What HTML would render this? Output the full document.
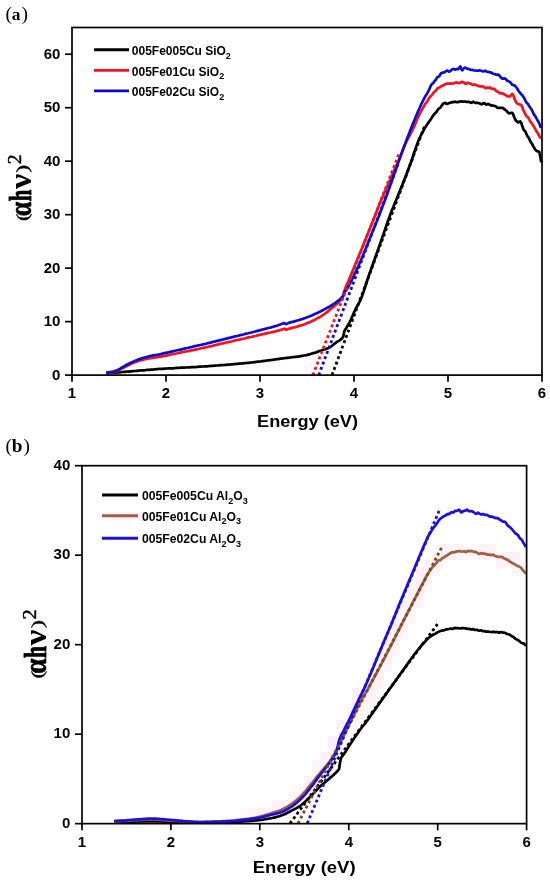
<!DOCTYPE html>
<html lang="en">
<head>
<meta charset="utf-8">
<title>Tauc plots</title>
<style>
html,body{margin:0;padding:0;background:#fff;}
body{width:550px;height:885px;overflow:hidden;position:relative;}
svg{position:absolute;left:0;top:0;display:block;}
.sans{font-family:"Liberation Sans",Arial,Helvetica,sans-serif;font-weight:bold;fill:#000;}
.serif{font-family:"Liberation Serif","DejaVu Serif",serif;fill:#000;}
.tick{font-size:15px;}
.leg{font-size:12px;}
.axl{font-size:17.6px;}
.ax line,.ax rect{stroke:#000;stroke-width:1.7;fill:none;}
.cv path{fill:none;stroke-linejoin:round;stroke-linecap:butt;}
.dot line{stroke-width:2.8;stroke-dasharray:2.9 2.8;fill:none;}
</style>
</head>
<body>
<svg width="550" height="885" viewBox="0 0 550 885">
<rect x="0" y="0" width="550" height="885" fill="#ffffff"/>

<!-- ================= panel (a) ================= -->
<text class="serif" y="19.8"><tspan x="5.6" font-size="19.6px">(</tspan><tspan x="11.8" font-size="17.4px" font-weight="bold">a</tspan><tspan x="21.6" font-size="19.6px">)</tspan></text>

<g class="cv">
<path d="M106.3,373.5 L107.3,373.3 L108.3,373.2 L109.3,373.1 L110.3,373.0 L111.3,372.9 L112.3,372.9 L113.3,372.8 L114.3,372.7 L115.3,372.7 L116.3,372.6 L117.3,372.4 L118.3,372.3 L119.3,372.3 L120.3,372.3 L121.3,372.1 L122.3,372.0 L123.3,371.9 L124.3,371.9 L125.3,371.8 L126.3,371.7 L127.3,371.7 L128.3,371.7 L129.3,371.6 L130.3,371.4 L131.3,371.3 L132.3,371.2 L133.3,371.1 L134.3,371.0 L135.3,371.0 L136.3,370.9 L137.3,370.8 L138.3,370.7 L139.3,370.6 L140.3,370.5 L141.3,370.4 L142.3,370.3 L143.3,370.3 L144.3,370.3 L145.3,370.2 L146.3,370.0 L147.3,369.9 L148.3,369.8 L149.3,369.8 L150.3,369.7 L151.3,369.6 L152.3,369.6 L153.3,369.5 L154.3,369.4 L155.3,369.3 L156.3,369.2 L157.3,369.1 L158.3,369.0 L159.3,368.9 L160.3,368.9 L161.3,368.9 L162.3,368.8 L163.3,368.8 L164.3,368.7 L165.3,368.6 L166.3,368.5 L167.3,368.5 L168.3,368.4 L169.3,368.3 L170.3,368.3 L171.3,368.3 L172.3,368.3 L173.3,368.3 L174.3,368.2 L175.3,368.0 L176.3,367.8 L177.3,367.9 L178.3,367.9 L179.3,367.9 L180.3,367.7 L181.3,367.6 L182.3,367.6 L183.3,367.6 L184.3,367.6 L185.3,367.5 L186.3,367.5 L187.3,367.4 L188.3,367.4 L189.3,367.3 L190.3,367.3 L191.3,367.2 L192.3,367.1 L193.3,367.1 L194.3,367.1 L195.3,367.1 L196.3,367.0 L197.3,366.9 L198.3,366.8 L199.3,366.7 L200.3,366.7 L201.3,366.6 L202.3,366.5 L203.3,366.5 L204.3,366.4 L205.3,366.4 L206.3,366.3 L207.3,366.3 L208.3,366.2 L209.3,366.1 L210.3,366.0 L211.3,365.9 L212.3,365.9 L213.3,365.8 L214.3,365.7 L215.3,365.6 L216.3,365.5 L217.3,365.5 L218.3,365.5 L219.3,365.3 L220.3,365.2 L221.3,365.2 L222.3,365.1 L223.3,365.0 L224.3,365.0 L225.3,364.9 L226.3,364.8 L227.3,364.7 L228.3,364.7 L229.3,364.6 L230.3,364.5 L231.3,364.4 L232.3,364.4 L233.3,364.2 L234.3,364.1 L235.3,364.0 L236.3,363.9 L237.3,363.8 L238.3,363.7 L239.3,363.7 L240.3,363.6 L241.3,363.5 L242.3,363.4 L243.3,363.3 L244.3,363.2 L245.3,363.1 L246.3,363.0 L247.3,362.9 L248.3,362.8 L249.3,362.8 L250.3,362.6 L251.3,362.5 L252.3,362.4 L253.3,362.3 L254.3,362.2 L255.3,362.1 L256.3,361.9 L257.3,361.7 L258.3,361.7 L259.3,361.7 L260.3,361.5 L261.3,361.3 L262.3,361.2 L263.3,361.1 L264.3,360.9 L265.3,360.8 L266.3,360.6 L267.3,360.5 L268.3,360.4 L269.3,360.3 L270.3,360.1 L271.3,360.0 L272.3,359.9 L273.3,359.8 L274.3,359.6 L275.3,359.4 L276.3,359.2 L277.3,359.2 L278.3,359.1 L279.3,358.9 L280.3,358.7 L281.3,358.6 L282.3,358.5 L283.3,358.3 L284.3,358.2 L285.3,358.0 L286.3,357.9 L287.3,357.8 L288.3,357.8 L289.3,357.6 L290.3,357.5 L291.3,357.3 L292.3,357.2 L293.3,357.1 L294.3,357.0 L295.3,356.9 L296.3,356.8 L297.3,356.7 L298.3,356.6 L299.3,356.4 L300.3,356.2 L301.3,355.9 L302.3,355.8 L303.3,355.7 L304.3,355.5 L305.3,355.3 L306.3,355.1 L307.3,354.9 L308.3,354.6 L309.3,354.4 L310.3,354.0 L311.3,353.7 L312.3,353.4 L313.3,353.1 L314.3,352.9 L315.3,352.7 L316.3,352.3 L317.3,351.9 L318.3,351.6 L319.3,351.1 L320.3,350.7 L321.3,350.5 L322.3,350.1 L323.3,349.8 L324.3,349.5 L325.3,349.2 L326.3,348.8 L327.3,348.4 L328.3,348.0 L329.3,347.5 L330.3,346.9 L331.3,346.3 L332.3,345.6 L333.3,344.7 L334.3,343.9 L335.3,343.1 L336.3,342.4 L337.3,341.6 L338.3,341.1 L339.3,340.6 L340.3,339.9 L341.3,339.1 L342.3,338.0 L343.3,336.4 L344.3,331.2 L345.3,329.5 L346.3,328.0 L347.3,326.3 L348.3,324.7 L349.3,322.9 L350.3,320.9 L351.3,318.8 L352.3,316.5 L353.3,314.1 L354.3,311.8 L355.3,309.7 L356.3,307.7 L357.3,305.9 L358.3,304.1 L359.3,302.4 L360.3,300.3 L361.3,297.9 L362.3,295.4 L363.3,292.6 L364.3,289.6 L365.3,286.5 L366.3,283.4 L367.3,280.3 L368.3,277.3 L369.3,274.3 L370.3,271.5 L371.3,268.7 L372.3,265.8 L373.3,263.0 L374.3,260.1 L375.3,257.3 L376.3,254.6 L377.3,251.8 L378.3,249.0 L379.3,246.1 L380.3,243.2 L381.3,240.2 L382.3,237.3 L383.3,234.5 L384.3,231.6 L385.3,228.6 L386.3,225.7 L387.3,222.8 L388.3,220.0 L389.3,217.2 L390.3,214.5 L391.3,211.8 L392.3,209.3 L393.3,206.9 L394.3,204.5 L395.3,202.1 L396.3,199.7 L397.3,197.3 L398.3,194.8 L399.3,192.3 L400.3,189.8 L401.3,187.3 L402.3,184.9 L403.3,182.3 L404.3,179.7 L405.3,177.2 L406.3,174.7 L407.3,172.0 L408.3,169.3 L409.3,166.7 L410.3,164.0 L411.3,161.2 L412.3,158.2 L413.3,155.1 L414.3,152.2 L415.3,149.3 L416.3,146.4 L417.3,143.7 L418.3,141.1 L419.3,138.7 L420.3,136.5 L421.3,134.5 L422.3,132.6 L423.3,130.8 L424.3,129.1 L425.3,127.4 L426.3,125.8 L427.3,124.2 L428.3,122.7 L429.3,121.2 L430.3,119.9 L431.3,118.4 L432.3,116.7 L433.3,115.4 L434.3,114.1 L435.3,113.0 L436.3,112.0 L437.3,110.6 L438.3,109.1 L439.3,108.4 L440.3,107.9 L441.3,106.3 L442.3,104.7 L443.3,103.7 L444.3,103.0 L445.3,102.9 L446.3,103.6 L447.3,103.9 L448.3,103.4 L449.3,103.0 L450.3,102.7 L451.3,102.4 L452.3,102.1 L453.3,102.1 L454.3,101.9 L455.3,101.7 L456.3,102.1 L457.3,102.2 L458.3,101.9 L459.3,101.8 L460.3,101.4 L461.3,101.3 L462.3,101.6 L463.3,101.6 L464.3,101.5 L465.3,101.5 L466.3,101.9 L467.3,102.0 L468.3,101.7 L469.3,102.1 L470.3,102.5 L471.3,102.8 L472.3,102.3 L473.3,101.7 L474.3,102.4 L475.3,102.9 L476.3,102.7 L477.3,102.8 L478.3,103.0 L479.3,103.3 L480.3,103.8 L481.3,104.2 L482.3,104.1 L483.3,103.2 L484.3,103.0 L485.3,104.0 L486.3,104.6 L487.3,104.2 L488.3,103.9 L489.3,104.5 L490.3,105.2 L491.3,105.4 L492.3,105.6 L493.3,105.7 L494.3,105.9 L495.3,106.0 L496.3,106.8 L497.3,107.7 L498.3,107.9 L499.3,107.8 L500.3,107.9 L501.3,107.9 L502.3,107.8 L503.3,108.3 L504.3,109.1 L505.3,109.9 L506.3,110.6 L507.3,111.7 L508.3,112.9 L509.3,113.3 L510.3,113.1 L511.3,112.8 L512.3,112.8 L513.3,114.6 L514.3,117.5 L515.3,119.6 L516.3,120.8 L517.3,122.0 L518.3,122.4 L519.3,121.7 L520.3,121.4 L521.3,123.0 L522.3,126.0 L523.3,129.0 L524.3,130.5 L525.3,131.4 L526.3,133.7 L527.3,136.1 L528.3,137.2 L529.3,138.9 L530.3,141.2 L531.3,142.7 L532.3,144.3 L533.3,146.4 L534.3,148.1 L535.3,149.5 L536.3,150.8 L537.3,151.3 L538.3,151.3 L539.3,152.0 L540.3,156.5 L541.2,162.2" stroke="#000" stroke-width="2.7"/>
<path d="M106.3,372.9 L107.3,372.8 L108.3,372.7 L109.3,372.7 L110.3,372.5 L111.3,372.4 L112.3,372.3 L113.3,372.0 L114.3,371.7 L115.3,371.5 L116.3,371.3 L117.3,371.0 L118.3,370.5 L119.3,369.9 L120.3,369.4 L121.3,368.9 L122.3,368.4 L123.3,367.9 L124.3,367.3 L125.3,366.8 L126.3,366.3 L127.3,365.8 L128.3,365.3 L129.3,364.8 L130.3,364.3 L131.3,363.9 L132.3,363.4 L133.3,362.9 L134.3,362.5 L135.3,362.1 L136.3,361.7 L137.3,361.3 L138.3,360.9 L139.3,360.6 L140.3,360.4 L141.3,360.2 L142.3,359.9 L143.3,359.6 L144.3,359.4 L145.3,359.2 L146.3,359.0 L147.3,358.7 L148.3,358.5 L149.3,358.4 L150.3,358.3 L151.3,358.1 L152.3,357.9 L153.3,357.7 L154.3,357.6 L155.3,357.5 L156.3,357.4 L157.3,357.2 L158.3,357.0 L159.3,356.9 L160.3,356.8 L161.3,356.6 L162.3,356.4 L163.3,356.2 L164.3,356.0 L165.3,355.7 L166.3,355.6 L167.3,355.4 L168.3,355.2 L169.3,355.0 L170.3,354.7 L171.3,354.5 L172.3,354.3 L173.3,354.1 L174.3,353.9 L175.3,353.7 L176.3,353.5 L177.3,353.3 L178.3,353.1 L179.3,352.8 L180.3,352.6 L181.3,352.4 L182.3,352.1 L183.3,352.0 L184.3,351.8 L185.3,351.5 L186.3,351.4 L187.3,351.2 L188.3,351.1 L189.3,350.9 L190.3,350.6 L191.3,350.4 L192.3,350.3 L193.3,350.1 L194.3,349.8 L195.3,349.6 L196.3,349.4 L197.3,349.2 L198.3,349.0 L199.3,348.8 L200.3,348.5 L201.3,348.3 L202.3,348.1 L203.3,347.9 L204.3,347.7 L205.3,347.4 L206.3,347.2 L207.3,347.0 L208.3,346.7 L209.3,346.5 L210.3,346.3 L211.3,346.2 L212.3,346.0 L213.3,345.6 L214.3,345.3 L215.3,345.1 L216.3,344.9 L217.3,344.6 L218.3,344.4 L219.3,344.1 L220.3,343.9 L221.3,343.7 L222.3,343.4 L223.3,343.3 L224.3,343.1 L225.3,342.8 L226.3,342.5 L227.3,342.3 L228.3,342.1 L229.3,341.9 L230.3,341.7 L231.3,341.5 L232.3,341.2 L233.3,340.9 L234.3,340.7 L235.3,340.4 L236.3,340.2 L237.3,340.0 L238.3,339.8 L239.3,339.6 L240.3,339.4 L241.3,339.1 L242.3,338.9 L243.3,338.7 L244.3,338.5 L245.3,338.2 L246.3,337.9 L247.3,337.7 L248.3,337.4 L249.3,337.2 L250.3,337.2 L251.3,337.0 L252.3,336.7 L253.3,336.4 L254.3,336.2 L255.3,336.0 L256.3,335.7 L257.3,335.4 L258.3,335.1 L259.3,334.9 L260.3,334.7 L261.3,334.6 L262.3,334.3 L263.3,334.1 L264.3,333.9 L265.3,333.6 L266.3,333.3 L267.3,333.2 L268.3,332.9 L269.3,332.7 L270.3,332.5 L271.3,332.3 L272.3,332.1 L273.3,331.9 L274.3,331.8 L275.3,331.5 L276.3,331.1 L277.3,330.8 L278.3,330.6 L279.3,330.3 L280.3,330.0 L281.3,329.7 L282.3,329.4 L283.3,329.1 L284.3,328.7 L285.3,329.4 L286.3,329.8 L287.3,329.3 L288.3,328.9 L289.3,328.6 L290.3,328.4 L291.3,328.1 L292.3,327.8 L293.3,327.5 L294.3,327.4 L295.3,327.1 L296.3,326.9 L297.3,326.6 L298.3,326.2 L299.3,325.9 L300.3,325.6 L301.3,325.4 L302.3,325.0 L303.3,324.7 L304.3,324.3 L305.3,323.9 L306.3,323.5 L307.3,323.1 L308.3,322.7 L309.3,322.4 L310.3,321.9 L311.3,321.4 L312.3,321.0 L313.3,320.5 L314.3,320.0 L315.3,319.5 L316.3,318.9 L317.3,318.4 L318.3,317.9 L319.3,317.2 L320.3,316.7 L321.3,316.1 L322.3,315.4 L323.3,314.8 L324.3,314.1 L325.3,313.3 L326.3,312.6 L327.3,311.9 L328.3,311.1 L329.3,310.2 L330.3,309.3 L331.3,308.5 L332.3,307.7 L333.3,306.9 L334.3,306.0 L335.3,305.2 L336.3,304.3 L337.3,303.4 L338.3,302.4 L339.3,301.3 L340.3,300.1 L341.3,298.9 L342.3,297.8 L343.3,296.0 L344.3,291.1 L345.3,288.2 L346.3,285.9 L347.3,283.6 L348.3,281.2 L349.3,278.8 L350.3,276.4 L351.3,274.0 L352.3,271.6 L353.3,269.2 L354.3,266.8 L355.3,264.3 L356.3,261.9 L357.3,259.5 L358.3,257.1 L359.3,254.6 L360.3,252.2 L361.3,249.8 L362.3,247.4 L363.3,245.0 L364.3,242.5 L365.3,240.1 L366.3,237.6 L367.3,235.1 L368.3,232.5 L369.3,230.0 L370.3,227.5 L371.3,225.0 L372.3,222.5 L373.3,220.0 L374.3,217.4 L375.3,214.9 L376.3,212.3 L377.3,209.7 L378.3,207.2 L379.3,204.6 L380.3,202.1 L381.3,199.8 L382.3,197.5 L383.3,195.2 L384.3,192.9 L385.3,190.6 L386.3,188.4 L387.3,186.0 L388.3,183.7 L389.3,181.5 L390.3,179.2 L391.3,176.9 L392.3,174.6 L393.3,172.3 L394.3,170.0 L395.3,167.9 L396.3,165.7 L397.3,163.5 L398.3,161.3 L399.3,159.0 L400.3,156.7 L401.3,154.2 L402.3,151.6 L403.3,148.9 L404.3,146.3 L405.3,143.9 L406.3,141.8 L407.3,139.8 L408.3,137.8 L409.3,136.0 L410.3,134.3 L411.3,132.4 L412.3,130.5 L413.3,128.4 L414.3,126.2 L415.3,123.8 L416.3,121.5 L417.3,119.1 L418.3,116.8 L419.3,114.7 L420.3,112.8 L421.3,110.9 L422.3,109.1 L423.3,107.3 L424.3,105.6 L425.3,103.8 L426.3,102.5 L427.3,101.3 L428.3,99.5 L429.3,97.6 L430.3,96.6 L431.3,95.7 L432.3,94.5 L433.3,93.0 L434.3,91.7 L435.3,91.2 L436.3,89.9 L437.3,88.5 L438.3,87.9 L439.3,87.5 L440.3,86.8 L441.3,86.2 L442.3,85.7 L443.3,85.3 L444.3,84.8 L445.3,84.2 L446.3,83.7 L447.3,83.6 L448.3,83.6 L449.3,83.6 L450.3,83.7 L451.3,83.4 L452.3,83.5 L453.3,83.6 L454.3,83.1 L455.3,82.6 L456.3,82.4 L457.3,82.7 L458.3,83.1 L459.3,83.1 L460.3,82.8 L461.3,82.1 L462.3,81.9 L463.3,82.2 L464.3,82.8 L465.3,83.8 L466.3,83.7 L467.3,82.9 L468.3,82.9 L469.3,83.3 L470.3,83.7 L471.3,84.1 L472.3,84.7 L473.3,85.0 L474.3,84.6 L475.3,84.5 L476.3,85.1 L477.3,85.6 L478.3,86.0 L479.3,86.1 L480.3,86.4 L481.3,86.5 L482.3,86.4 L483.3,86.6 L484.3,87.4 L485.3,88.2 L486.3,87.9 L487.3,87.6 L488.3,87.8 L489.3,87.7 L490.3,87.6 L491.3,88.4 L492.3,89.0 L493.3,88.8 L494.3,88.9 L495.3,90.0 L496.3,91.1 L497.3,91.5 L498.3,92.1 L499.3,93.0 L500.3,93.3 L501.3,93.2 L502.3,93.3 L503.3,93.8 L504.3,94.5 L505.3,95.0 L506.3,95.5 L507.3,96.3 L508.3,96.4 L509.3,96.4 L510.3,96.2 L511.3,94.7 L512.3,93.9 L513.3,95.2 L514.3,98.4 L515.3,100.7 L516.3,102.5 L517.3,103.7 L518.3,104.1 L519.3,104.3 L520.3,104.7 L521.3,105.1 L522.3,107.2 L523.3,110.0 L524.3,112.0 L525.3,114.2 L526.3,116.0 L527.3,116.8 L528.3,117.8 L529.3,119.7 L530.3,121.5 L531.3,122.6 L532.3,124.0 L533.3,125.7 L534.3,127.3 L535.3,129.1 L536.3,131.0 L537.3,132.4 L538.3,134.1 L539.3,136.0 L540.3,137.6 L541.0,138.6" stroke="#f4121d" stroke-width="2.7"/>
<path d="M106.3,372.6 L107.3,372.5 L108.3,372.3 L109.3,372.2 L110.3,372.0 L111.3,371.9 L112.3,371.7 L113.3,371.5 L114.3,371.2 L115.3,370.8 L116.3,370.5 L117.3,370.2 L118.3,369.8 L119.3,369.2 L120.3,368.6 L121.3,367.9 L122.3,367.3 L123.3,366.8 L124.3,366.2 L125.3,365.6 L126.3,365.0 L127.3,364.5 L128.3,364.0 L129.3,363.5 L130.3,362.9 L131.3,362.5 L132.3,362.1 L133.3,361.6 L134.3,361.1 L135.3,360.7 L136.3,360.4 L137.3,360.0 L138.3,359.5 L139.3,359.1 L140.3,358.8 L141.3,358.4 L142.3,358.1 L143.3,357.9 L144.3,357.7 L145.3,357.4 L146.3,357.0 L147.3,356.8 L148.3,356.6 L149.3,356.2 L150.3,356.0 L151.3,355.8 L152.3,355.6 L153.3,355.4 L154.3,355.2 L155.3,355.1 L156.3,355.0 L157.3,354.8 L158.3,354.6 L159.3,354.5 L160.3,354.2 L161.3,353.9 L162.3,353.7 L163.3,353.4 L164.3,353.1 L165.3,352.9 L166.3,352.8 L167.3,352.6 L168.3,352.4 L169.3,352.2 L170.3,351.9 L171.3,351.6 L172.3,351.4 L173.3,351.1 L174.3,351.0 L175.3,350.8 L176.3,350.5 L177.3,350.2 L178.3,350.0 L179.3,349.9 L180.3,349.6 L181.3,349.4 L182.3,349.1 L183.3,348.9 L184.3,348.6 L185.3,348.4 L186.3,348.2 L187.3,348.0 L188.3,347.8 L189.3,347.5 L190.3,347.3 L191.3,347.1 L192.3,346.9 L193.3,346.5 L194.3,346.2 L195.3,346.1 L196.3,345.9 L197.3,345.7 L198.3,345.4 L199.3,345.2 L200.3,345.0 L201.3,344.8 L202.3,344.6 L203.3,344.3 L204.3,344.1 L205.3,344.0 L206.3,343.7 L207.3,343.3 L208.3,343.1 L209.3,342.9 L210.3,342.7 L211.3,342.4 L212.3,342.1 L213.3,341.8 L214.3,341.6 L215.3,341.4 L216.3,341.1 L217.3,340.8 L218.3,340.6 L219.3,340.4 L220.3,340.1 L221.3,339.9 L222.3,339.7 L223.3,339.4 L224.3,339.1 L225.3,338.9 L226.3,338.6 L227.3,338.4 L228.3,338.1 L229.3,337.8 L230.3,337.6 L231.3,337.4 L232.3,337.1 L233.3,336.9 L234.3,336.6 L235.3,336.3 L236.3,336.2 L237.3,336.0 L238.3,335.7 L239.3,335.4 L240.3,335.2 L241.3,334.9 L242.3,334.7 L243.3,334.5 L244.3,334.2 L245.3,333.8 L246.3,333.6 L247.3,333.5 L248.3,333.3 L249.3,333.0 L250.3,332.7 L251.3,332.5 L252.3,332.2 L253.3,332.0 L254.3,331.8 L255.3,331.5 L256.3,331.2 L257.3,330.9 L258.3,330.6 L259.3,330.4 L260.3,330.1 L261.3,329.9 L262.3,329.6 L263.3,329.3 L264.3,329.1 L265.3,328.8 L266.3,328.6 L267.3,328.3 L268.3,328.0 L269.3,327.8 L270.3,327.6 L271.3,327.3 L272.3,327.0 L273.3,326.7 L274.3,326.4 L275.3,326.2 L276.3,325.9 L277.3,325.5 L278.3,325.2 L279.3,324.8 L280.3,324.5 L281.3,324.1 L282.3,323.7 L283.3,323.4 L284.3,322.9 L285.3,323.8 L286.3,324.2 L287.3,323.6 L288.3,323.1 L289.3,322.7 L290.3,322.4 L291.3,322.1 L292.3,321.9 L293.3,321.7 L294.3,321.4 L295.3,321.1 L296.3,320.8 L297.3,320.5 L298.3,320.2 L299.3,320.0 L300.3,319.6 L301.3,319.3 L302.3,319.1 L303.3,318.7 L304.3,318.3 L305.3,317.9 L306.3,317.5 L307.3,317.2 L308.3,316.8 L309.3,316.5 L310.3,316.1 L311.3,315.7 L312.3,315.3 L313.3,314.8 L314.3,314.3 L315.3,313.8 L316.3,313.4 L317.3,313.0 L318.3,312.5 L319.3,312.0 L320.3,311.5 L321.3,311.0 L322.3,310.5 L323.3,310.0 L324.3,309.4 L325.3,308.9 L326.3,308.3 L327.3,307.8 L328.3,307.2 L329.3,306.7 L330.3,306.1 L331.3,305.5 L332.3,304.8 L333.3,304.1 L334.3,303.6 L335.3,302.9 L336.3,302.2 L337.3,301.4 L338.3,300.6 L339.3,299.9 L340.3,299.0 L341.3,298.0 L342.3,297.0 L343.3,295.5 L344.3,291.9 L345.3,291.1 L346.3,289.9 L347.3,288.5 L348.3,286.7 L349.3,284.7 L350.3,282.7 L351.3,280.8 L352.3,278.8 L353.3,276.8 L354.3,274.8 L355.3,272.7 L356.3,270.6 L357.3,268.4 L358.3,266.2 L359.3,264.0 L360.3,261.6 L361.3,259.3 L362.3,256.9 L363.3,254.5 L364.3,252.2 L365.3,249.7 L366.3,247.2 L367.3,244.7 L368.3,242.2 L369.3,239.8 L370.3,237.3 L371.3,234.9 L372.3,232.3 L373.3,229.9 L374.3,227.4 L375.3,224.9 L376.3,222.4 L377.3,219.9 L378.3,217.5 L379.3,214.9 L380.3,212.3 L381.3,209.8 L382.3,207.1 L383.3,204.4 L384.3,201.8 L385.3,199.2 L386.3,196.5 L387.3,193.7 L388.3,190.9 L389.3,188.1 L390.3,185.3 L391.3,182.5 L392.3,179.5 L393.3,176.6 L394.3,173.7 L395.3,171.0 L396.3,168.1 L397.3,165.2 L398.3,162.4 L399.3,159.6 L400.3,156.8 L401.3,154.1 L402.3,151.4 L403.3,148.7 L404.3,146.1 L405.3,143.4 L406.3,140.6 L407.3,137.9 L408.3,135.4 L409.3,132.9 L410.3,130.3 L411.3,127.7 L412.3,125.3 L413.3,122.8 L414.3,120.4 L415.3,118.0 L416.3,115.6 L417.3,113.2 L418.3,110.9 L419.3,108.7 L420.3,106.5 L421.3,104.2 L422.3,102.2 L423.3,100.1 L424.3,98.1 L425.3,96.3 L426.3,94.9 L427.3,93.2 L428.3,91.4 L429.3,89.4 L430.3,86.8 L431.3,84.7 L432.3,83.8 L433.3,83.0 L434.3,81.5 L435.3,80.4 L436.3,78.9 L437.3,77.2 L438.3,76.7 L439.3,76.2 L440.3,74.4 L441.3,73.0 L442.3,72.7 L443.3,72.7 L444.3,72.3 L445.3,71.7 L446.3,71.0 L447.3,70.6 L448.3,71.2 L449.3,71.7 L450.3,71.0 L451.3,70.0 L452.3,69.3 L453.3,68.9 L454.3,69.4 L455.3,69.6 L456.3,69.2 L457.3,69.2 L458.3,69.1 L459.3,67.6 L460.3,66.5 L461.3,69.2 L462.3,70.3 L463.3,68.9 L464.3,67.8 L465.3,67.6 L466.3,68.2 L467.3,68.8 L468.3,68.8 L469.3,69.2 L470.3,69.7 L471.3,69.9 L472.3,69.9 L473.3,70.2 L474.3,70.5 L475.3,70.5 L476.3,70.6 L477.3,70.8 L478.3,70.7 L479.3,70.4 L480.3,70.5 L481.3,70.8 L482.3,71.2 L483.3,71.5 L484.3,71.0 L485.3,70.7 L486.3,71.4 L487.3,71.8 L488.3,71.8 L489.3,72.2 L490.3,72.4 L491.3,72.6 L492.3,73.4 L493.3,73.9 L494.3,74.0 L495.3,74.3 L496.3,74.8 L497.3,74.7 L498.3,74.5 L499.3,75.4 L500.3,76.7 L501.3,77.8 L502.3,78.6 L503.3,78.6 L504.3,78.4 L505.3,78.6 L506.3,79.6 L507.3,80.8 L508.3,81.3 L509.3,81.5 L510.3,82.3 L511.3,83.7 L512.3,84.8 L513.3,85.1 L514.3,85.4 L515.3,86.2 L516.3,87.3 L517.3,88.7 L518.3,90.4 L519.3,91.9 L520.3,93.1 L521.3,94.3 L522.3,95.3 L523.3,96.8 L524.3,98.4 L525.3,100.3 L526.3,102.3 L527.3,103.4 L528.3,104.5 L529.3,106.3 L530.3,107.8 L531.3,109.0 L532.3,110.9 L533.3,113.3 L534.3,115.0 L535.3,116.1 L536.3,118.1 L537.3,119.9 L538.3,121.4 L539.3,123.6 L540.3,126.3 L541.0,128.1" stroke="#0b0bd6" stroke-width="2.7"/>
</g>
<g class="dot">
<line x1="312.9" y1="375.1" x2="398.7" y2="154.6" stroke="#f4121d"/>
<line x1="318.7" y1="375.1" x2="398" y2="164" stroke="#0b0bd6"/>
<line x1="332" y1="375.1" x2="424.6" y2="126" stroke="#000"/>
</g>

<g class="ax">
<rect x="72" y="27.5" width="470" height="347.6"/>
<line x1="72" y1="375.1" x2="72" y2="381.8"/>
<line x1="166" y1="375.1" x2="166" y2="381.8"/>
<line x1="260" y1="375.1" x2="260" y2="381.8"/>
<line x1="354" y1="375.1" x2="354" y2="381.8"/>
<line x1="448" y1="375.1" x2="448" y2="381.8"/>
<line x1="542" y1="375.1" x2="542" y2="381.8"/>
<line x1="65" y1="375.10" x2="72" y2="375.10"/>
<line x1="65" y1="321.62" x2="72" y2="321.62"/>
<line x1="65" y1="268.14" x2="72" y2="268.14"/>
<line x1="65" y1="214.66" x2="72" y2="214.66"/>
<line x1="65" y1="161.18" x2="72" y2="161.18"/>
<line x1="65" y1="107.70" x2="72" y2="107.70"/>
<line x1="65" y1="54.22" x2="72" y2="54.22"/>
</g>
<g class="sans tick">
<text x="72" y="397.8" text-anchor="middle">1</text>
<text x="166" y="397.8" text-anchor="middle">2</text>
<text x="260" y="397.8" text-anchor="middle">3</text>
<text x="354" y="397.8" text-anchor="middle">4</text>
<text x="448" y="397.8" text-anchor="middle">5</text>
<text x="542" y="397.8" text-anchor="middle">6</text>
<text x="60.45" y="379.80" text-anchor="end">0</text>
<text x="60.45" y="326.32" text-anchor="end">10</text>
<text x="60.45" y="272.84" text-anchor="end">20</text>
<text x="60.45" y="219.36" text-anchor="end">30</text>
<text x="60.45" y="165.88" text-anchor="end">40</text>
<text x="60.45" y="112.40" text-anchor="end">50</text>
<text x="60.45" y="58.92" text-anchor="end">60</text>
</g>
<text class="sans" font-size="16.4px" transform="translate(307.5,427.1) scale(1.109,1)" text-anchor="middle">Energy (eV)</text>

<g class="cv">
<path d="M94,49.8 H129" stroke="#000" stroke-width="2.9" stroke-linecap="butt"/>
<path d="M94,70.4 H129" stroke="#f4121d" stroke-width="2.9" stroke-linecap="butt"/>
<path d="M94,90.9 H129" stroke="#0b0bd6" stroke-width="2.9" stroke-linecap="butt"/>
</g>
<g class="sans leg">
<text x="131.8" y="55">005Fe005Cu SiO<tspan font-size="9px" dy="3.7">2</tspan></text>
<text x="131.8" y="75.6">005Fe01Cu SiO<tspan font-size="9px" dy="3.7">2</tspan></text>
<text x="131.8" y="96.1">005Fe02Cu SiO<tspan font-size="9px" dy="3.7">2</tspan></text>
</g>

<g transform="translate(30.9,224) rotate(-90)"><text class="serif" transform="translate(3.06,-3) scale(1.350,1)" font-size="16.5px" stroke="#000" stroke-width="0.3" stroke-linejoin="round">(</text><text class="serif" transform="translate(7.70,0) scale(0.820,1)" font-size="32px" font-weight="bold" stroke="#000" stroke-width="0.6" stroke-linejoin="round">α</text><text class="serif" transform="translate(22.80,0) scale(0.650,1)" font-size="32px" font-weight="bold" stroke="#000" stroke-width="0.9" stroke-linejoin="round">h</text><text class="serif" transform="translate(34.90,0) scale(1.100,1)" font-size="31px" font-weight="bold">ν</text><text class="serif" transform="translate(51.30,-3) scale(1.450,1)" font-size="16.5px" stroke="#000" stroke-width="0.3" stroke-linejoin="round">)</text><text class="serif" transform="translate(59.70,-10) scale(1.070,1)" font-size="18.4px" stroke="#000" stroke-width="0.45" stroke-linejoin="round">2</text></g>

<!-- ================= panel (b) ================= -->
<g><rect x="96" y="512" width="8" height="8" fill="#ffe3f1" fill-opacity="0.27"/>
<rect x="104" y="512" width="8" height="8" fill="#ffe3f1" fill-opacity="0.21"/>
<rect x="112" y="512" width="8" height="8" fill="#ffe3f1" fill-opacity="0.39"/>
<rect x="120" y="512" width="8" height="8" fill="#ffe3f1" fill-opacity="0.49"/>
<rect x="128" y="512" width="8" height="8" fill="#ffe3f1" fill-opacity="0.37"/>
<rect x="136" y="512" width="8" height="8" fill="#ffe3f1" fill-opacity="0.39"/>
<rect x="240" y="808" width="8" height="8" fill="#ffe3f1" fill-opacity="0.21"/>
<rect x="248" y="808" width="8" height="8" fill="#ffe3f1" fill-opacity="0.39"/>
<rect x="256" y="808" width="8" height="8" fill="#ffe3f1" fill-opacity="0.58"/>
<rect x="264" y="808" width="8" height="8" fill="#ffe3f1" fill-opacity="0.54"/>
<rect x="272" y="800" width="8" height="8" fill="#ffe3f1" fill-opacity="0.49"/>
<rect x="272" y="808" width="8" height="8" fill="#ffe3f1" fill-opacity="0.24"/>
<rect x="280" y="800" width="8" height="8" fill="#ffe3f1" fill-opacity="0.56"/>
<rect x="280" y="808" width="8" height="8" fill="#ffe3f1" fill-opacity="0.54"/>
<rect x="288" y="792" width="8" height="8" fill="#ffe3f1" fill-opacity="0.27"/>
<rect x="288" y="800" width="8" height="8" fill="#ffe3f1" fill-opacity="0.45"/>
<rect x="288" y="808" width="8" height="8" fill="#ffe3f1" fill-opacity="0.21"/>
<rect x="296" y="784" width="8" height="8" fill="#ffe3f1" fill-opacity="0.25"/>
<rect x="296" y="792" width="8" height="8" fill="#ffe3f1" fill-opacity="0.33"/>
<rect x="296" y="800" width="8" height="8" fill="#ffe3f1" fill-opacity="0.26"/>
<rect x="304" y="776" width="8" height="8" fill="#ffe3f1" fill-opacity="0.50"/>
<rect x="304" y="784" width="8" height="8" fill="#ffe3f1" fill-opacity="0.53"/>
<rect x="304" y="792" width="8" height="8" fill="#ffe3f1" fill-opacity="0.34"/>
<rect x="312" y="760" width="8" height="8" fill="#ffe3f1" fill-opacity="0.33"/>
<rect x="312" y="768" width="8" height="8" fill="#ffe3f1" fill-opacity="0.24"/>
<rect x="312" y="776" width="8" height="8" fill="#ffe3f1" fill-opacity="0.23"/>
<rect x="312" y="784" width="8" height="8" fill="#ffe3f1" fill-opacity="0.49"/>
<rect x="320" y="752" width="8" height="8" fill="#ffe3f1" fill-opacity="0.44"/>
<rect x="320" y="760" width="8" height="8" fill="#ffe3f1" fill-opacity="0.22"/>
<rect x="320" y="768" width="8" height="8" fill="#ffe3f1" fill-opacity="0.39"/>
<rect x="320" y="776" width="8" height="8" fill="#ffe3f1" fill-opacity="0.36"/>
<rect x="328" y="736" width="8" height="8" fill="#ffe3f1" fill-opacity="0.54"/>
<rect x="328" y="744" width="8" height="8" fill="#ffe3f1" fill-opacity="0.49"/>
<rect x="328" y="752" width="8" height="8" fill="#ffe3f1" fill-opacity="0.44"/>
<rect x="328" y="760" width="8" height="8" fill="#ffe3f1" fill-opacity="0.42"/>
<rect x="328" y="768" width="8" height="8" fill="#ffe3f1" fill-opacity="0.58"/>
<rect x="336" y="720" width="8" height="8" fill="#ffe3f1" fill-opacity="0.59"/>
<rect x="336" y="728" width="8" height="8" fill="#ffe3f1" fill-opacity="0.34"/>
<rect x="336" y="736" width="8" height="8" fill="#ffe3f1" fill-opacity="0.30"/>
<rect x="336" y="744" width="8" height="8" fill="#ffe3f1" fill-opacity="0.52"/>
<rect x="336" y="752" width="8" height="8" fill="#ffe3f1" fill-opacity="0.23"/>
<rect x="344" y="704" width="8" height="8" fill="#ffe3f1" fill-opacity="0.35"/>
<rect x="344" y="712" width="8" height="8" fill="#ffe3f1" fill-opacity="0.23"/>
<rect x="344" y="720" width="8" height="8" fill="#ffe3f1" fill-opacity="0.33"/>
<rect x="344" y="728" width="8" height="8" fill="#ffe3f1" fill-opacity="0.23"/>
<rect x="344" y="736" width="8" height="8" fill="#ffe3f1" fill-opacity="0.32"/>
<rect x="344" y="744" width="8" height="8" fill="#ffe3f1" fill-opacity="0.52"/>
<rect x="352" y="688" width="8" height="8" fill="#ffe3f1" fill-opacity="0.56"/>
<rect x="352" y="696" width="8" height="8" fill="#ffe3f1" fill-opacity="0.52"/>
<rect x="352" y="704" width="8" height="8" fill="#ffe3f1" fill-opacity="0.42"/>
<rect x="352" y="712" width="8" height="8" fill="#ffe3f1" fill-opacity="0.45"/>
<rect x="352" y="720" width="8" height="8" fill="#ffe3f1" fill-opacity="0.34"/>
<rect x="360" y="680" width="8" height="8" fill="#ffe3f1" fill-opacity="0.27"/>
<rect x="360" y="688" width="8" height="8" fill="#ffe3f1" fill-opacity="0.37"/>
<rect x="360" y="696" width="8" height="8" fill="#ffe3f1" fill-opacity="0.49"/>
<rect x="360" y="704" width="8" height="8" fill="#ffe3f1" fill-opacity="0.23"/>
<rect x="368" y="664" width="8" height="8" fill="#ffe3f1" fill-opacity="0.21"/>
<rect x="368" y="672" width="8" height="8" fill="#ffe3f1" fill-opacity="0.51"/>
<rect x="368" y="680" width="8" height="8" fill="#ffe3f1" fill-opacity="0.32"/>
<rect x="368" y="688" width="8" height="8" fill="#ffe3f1" fill-opacity="0.48"/>
<rect x="368" y="696" width="8" height="8" fill="#ffe3f1" fill-opacity="0.49"/>
<rect x="376" y="648" width="8" height="8" fill="#ffe3f1" fill-opacity="0.57"/>
<rect x="376" y="656" width="8" height="8" fill="#ffe3f1" fill-opacity="0.36"/>
<rect x="376" y="664" width="8" height="8" fill="#ffe3f1" fill-opacity="0.34"/>
<rect x="376" y="672" width="8" height="8" fill="#ffe3f1" fill-opacity="0.52"/>
<rect x="376" y="680" width="8" height="8" fill="#ffe3f1" fill-opacity="0.51"/>
<rect x="384" y="632" width="8" height="8" fill="#ffe3f1" fill-opacity="0.46"/>
<rect x="384" y="640" width="8" height="8" fill="#ffe3f1" fill-opacity="0.52"/>
<rect x="384" y="648" width="8" height="8" fill="#ffe3f1" fill-opacity="0.46"/>
<rect x="384" y="656" width="8" height="8" fill="#ffe3f1" fill-opacity="0.58"/>
<rect x="384" y="664" width="8" height="8" fill="#ffe3f1" fill-opacity="0.33"/>
<rect x="392" y="616" width="8" height="8" fill="#ffe3f1" fill-opacity="0.50"/>
<rect x="392" y="624" width="8" height="8" fill="#ffe3f1" fill-opacity="0.58"/>
<rect x="392" y="632" width="8" height="8" fill="#ffe3f1" fill-opacity="0.33"/>
<rect x="392" y="640" width="8" height="8" fill="#ffe3f1" fill-opacity="0.44"/>
<rect x="392" y="648" width="8" height="8" fill="#ffe3f1" fill-opacity="0.35"/>
<rect x="400" y="600" width="8" height="8" fill="#ffe3f1" fill-opacity="0.38"/>
<rect x="400" y="608" width="8" height="8" fill="#ffe3f1" fill-opacity="0.23"/>
<rect x="400" y="616" width="8" height="8" fill="#ffe3f1" fill-opacity="0.21"/>
<rect x="400" y="624" width="8" height="8" fill="#ffe3f1" fill-opacity="0.50"/>
<rect x="400" y="632" width="8" height="8" fill="#ffe3f1" fill-opacity="0.38"/>
<rect x="408" y="584" width="8" height="8" fill="#ffe3f1" fill-opacity="0.45"/>
<rect x="408" y="592" width="8" height="8" fill="#ffe3f1" fill-opacity="0.50"/>
<rect x="408" y="600" width="8" height="8" fill="#ffe3f1" fill-opacity="0.37"/>
<rect x="408" y="608" width="8" height="8" fill="#ffe3f1" fill-opacity="0.35"/>
<rect x="408" y="616" width="8" height="8" fill="#ffe3f1" fill-opacity="0.27"/>
<rect x="416" y="568" width="8" height="8" fill="#ffe3f1" fill-opacity="0.52"/>
<rect x="416" y="576" width="8" height="8" fill="#ffe3f1" fill-opacity="0.53"/>
<rect x="416" y="584" width="8" height="8" fill="#ffe3f1" fill-opacity="0.49"/>
<rect x="416" y="592" width="8" height="8" fill="#ffe3f1" fill-opacity="0.55"/>
<rect x="416" y="600" width="8" height="8" fill="#ffe3f1" fill-opacity="0.46"/>
<rect x="424" y="560" width="8" height="8" fill="#ffe3f1" fill-opacity="0.48"/>
<rect x="424" y="568" width="8" height="8" fill="#ffe3f1" fill-opacity="0.28"/>
<rect x="424" y="576" width="8" height="8" fill="#ffe3f1" fill-opacity="0.51"/>
<rect x="424" y="584" width="8" height="8" fill="#ffe3f1" fill-opacity="0.33"/>
<rect x="432" y="552" width="8" height="8" fill="#ffe3f1" fill-opacity="0.38"/>
<rect x="432" y="560" width="8" height="8" fill="#ffe3f1" fill-opacity="0.33"/>
<rect x="432" y="568" width="8" height="8" fill="#ffe3f1" fill-opacity="0.43"/>
<rect x="440" y="544" width="8" height="8" fill="#ffe3f1" fill-opacity="0.46"/>
<rect x="440" y="552" width="8" height="8" fill="#ffe3f1" fill-opacity="0.43"/>
<rect x="440" y="560" width="8" height="8" fill="#ffe3f1" fill-opacity="0.33"/>
<rect x="448" y="544" width="8" height="8" fill="#ffe3f1" fill-opacity="0.29"/>
<rect x="448" y="552" width="8" height="8" fill="#ffe3f1" fill-opacity="0.54"/>
<rect x="456" y="544" width="8" height="8" fill="#ffe3f1" fill-opacity="0.32"/>
<rect x="456" y="552" width="8" height="8" fill="#ffe3f1" fill-opacity="0.38"/>
<rect x="464" y="544" width="8" height="8" fill="#ffe3f1" fill-opacity="0.24"/>
<rect x="464" y="552" width="8" height="8" fill="#ffe3f1" fill-opacity="0.32"/>
<rect x="472" y="544" width="8" height="8" fill="#ffe3f1" fill-opacity="0.23"/>
<rect x="472" y="552" width="8" height="8" fill="#ffe3f1" fill-opacity="0.34"/>
<rect x="480" y="544" width="8" height="8" fill="#ffe3f1" fill-opacity="0.48"/>
<rect x="480" y="552" width="8" height="8" fill="#ffe3f1" fill-opacity="0.59"/>
<rect x="488" y="544" width="8" height="8" fill="#ffe3f1" fill-opacity="0.45"/>
<rect x="488" y="552" width="8" height="8" fill="#ffe3f1" fill-opacity="0.31"/>
<rect x="496" y="552" width="8" height="8" fill="#ffe3f1" fill-opacity="0.46"/>
<rect x="496" y="560" width="8" height="8" fill="#ffe3f1" fill-opacity="0.45"/>
<rect x="504" y="552" width="8" height="8" fill="#ffe3f1" fill-opacity="0.53"/>
<rect x="504" y="560" width="8" height="8" fill="#ffe3f1" fill-opacity="0.41"/>
<rect x="512" y="552" width="8" height="8" fill="#ffe3f1" fill-opacity="0.56"/>
<rect x="512" y="560" width="8" height="8" fill="#ffe3f1" fill-opacity="0.37"/>
<rect x="512" y="568" width="8" height="8" fill="#ffe3f1" fill-opacity="0.31"/></g>
<text class="serif" y="451.7"><tspan x="5.6" font-size="19.2px">(</tspan><tspan x="11.75" font-size="19.3px" font-weight="bold">b</tspan><tspan x="23.4" font-size="19.2px">)</tspan></text>

<g class="cv">
<path d="M114.0,822.2 L115.0,822.2 L116.0,822.1 L117.0,822.1 L118.0,822.0 L119.0,821.9 L120.0,821.9 L121.0,822.0 L122.0,821.9 L123.0,821.9 L124.0,821.8 L125.0,821.8 L126.0,821.8 L127.0,821.8 L128.0,821.7 L129.0,821.7 L130.0,821.7 L131.0,821.7 L132.0,821.7 L133.0,821.6 L134.0,821.6 L135.0,821.6 L136.0,821.5 L137.0,821.5 L138.0,821.6 L139.0,821.6 L140.0,821.5 L141.0,821.5 L142.0,821.5 L143.0,821.4 L144.0,821.4 L145.0,821.4 L146.0,821.4 L147.0,821.3 L148.0,821.3 L149.0,821.4 L150.0,821.5 L151.0,821.5 L152.0,821.4 L153.0,821.4 L154.0,821.4 L155.0,821.4 L156.0,821.4 L157.0,821.4 L158.0,821.5 L159.0,821.5 L160.0,821.5 L161.0,821.5 L162.0,821.6 L163.0,821.6 L164.0,821.6 L165.0,821.6 L166.0,821.6 L167.0,821.6 L168.0,821.7 L169.0,821.7 L170.0,821.7 L171.0,821.8 L172.0,821.8 L173.0,821.9 L174.0,821.9 L175.0,821.9 L176.0,821.9 L177.0,821.9 L178.0,822.0 L179.0,822.0 L180.0,822.1 L181.0,822.1 L182.0,822.1 L183.0,822.2 L184.0,822.2 L185.0,822.2 L186.0,822.2 L187.0,822.3 L188.0,822.3 L189.0,822.3 L190.0,822.3 L191.0,822.3 L192.0,822.4 L193.0,822.3 L194.0,822.3 L195.0,822.3 L196.0,822.3 L197.0,822.3 L198.0,822.4 L199.0,822.4 L200.0,822.4 L201.0,822.4 L202.0,822.4 L203.0,822.4 L204.0,822.4 L205.0,822.4 L206.0,822.4 L207.0,822.4 L208.0,822.4 L209.0,822.4 L210.0,822.3 L211.0,822.3 L212.0,822.3 L213.0,822.3 L214.0,822.3 L215.0,822.3 L216.0,822.3 L217.0,822.3 L218.0,822.3 L219.0,822.2 L220.0,822.2 L221.0,822.1 L222.0,822.1 L223.0,822.1 L224.0,822.1 L225.0,822.1 L226.0,822.0 L227.0,821.9 L228.0,821.9 L229.0,822.0 L230.0,822.0 L231.0,821.9 L232.0,821.9 L233.0,821.8 L234.0,821.8 L235.0,821.8 L236.0,821.7 L237.0,821.7 L238.0,821.7 L239.0,821.7 L240.0,821.6 L241.0,821.6 L242.0,821.5 L243.0,821.4 L244.0,821.4 L245.0,821.3 L246.0,821.2 L247.0,821.2 L248.0,821.2 L249.0,821.1 L250.0,821.0 L251.0,820.9 L252.0,820.8 L253.0,820.7 L254.0,820.6 L255.0,820.5 L256.0,820.4 L257.0,820.3 L258.0,820.2 L259.0,820.1 L260.0,820.0 L261.0,819.9 L262.0,819.8 L263.0,819.7 L264.0,819.5 L265.0,819.3 L266.0,819.1 L267.0,819.0 L268.0,818.8 L269.0,818.6 L270.0,818.4 L271.0,818.2 L272.0,818.0 L273.0,817.8 L274.0,817.6 L275.0,817.4 L276.0,817.1 L277.0,816.8 L278.0,816.6 L279.0,816.3 L280.0,816.0 L281.0,815.6 L282.0,815.2 L283.0,814.8 L284.0,814.4 L285.0,814.0 L286.0,813.5 L287.0,813.0 L288.0,812.5 L289.0,812.0 L290.0,811.5 L291.0,810.9 L292.0,810.4 L293.0,809.9 L294.0,809.4 L295.0,808.9 L296.0,808.4 L297.0,807.8 L298.0,807.2 L299.0,806.6 L300.0,806.0 L301.0,805.3 L302.0,804.5 L303.0,803.6 L304.0,802.7 L305.0,801.9 L306.0,800.9 L307.0,799.9 L308.0,798.9 L309.0,798.0 L310.0,797.0 L311.0,796.0 L312.0,795.0 L313.0,793.9 L314.0,792.8 L315.0,791.8 L316.0,790.8 L317.0,789.7 L318.0,788.6 L319.0,787.5 L320.0,786.6 L321.0,785.7 L322.0,784.8 L323.0,784.0 L324.0,783.1 L325.0,782.3 L326.0,781.4 L327.0,780.6 L328.0,779.7 L329.0,778.9 L330.0,778.0 L331.0,777.1 L332.0,776.3 L333.0,775.4 L334.0,774.5 L335.0,773.6 L336.0,772.6 L337.0,771.5 L338.0,770.4 L339.0,769.4 L340.0,762.7 L341.0,758.2 L342.0,756.4 L343.0,755.3 L344.0,754.0 L345.0,752.4 L346.0,750.9 L347.0,749.2 L348.0,747.6 L349.0,746.0 L350.0,744.5 L351.0,743.0 L352.0,741.5 L353.0,740.0 L354.0,738.5 L355.0,737.0 L356.0,735.5 L357.0,734.1 L358.0,732.7 L359.0,731.2 L360.0,729.8 L361.0,728.5 L362.0,727.2 L363.0,726.0 L364.0,724.8 L365.0,723.6 L366.0,722.3 L367.0,720.9 L368.0,719.5 L369.0,718.1 L370.0,716.7 L371.0,715.3 L372.0,713.9 L373.0,712.5 L374.0,711.0 L375.0,709.6 L376.0,708.2 L377.0,706.8 L378.0,705.4 L379.0,703.9 L380.0,702.5 L381.0,701.1 L382.0,699.7 L383.0,698.3 L384.0,696.9 L385.0,695.4 L386.0,694.1 L387.0,692.7 L388.0,691.3 L389.0,689.9 L390.0,688.5 L391.0,687.1 L392.0,685.7 L393.0,684.3 L394.0,682.9 L395.0,681.5 L396.0,680.1 L397.0,678.7 L398.0,677.3 L399.0,676.0 L400.0,674.6 L401.0,673.1 L402.0,671.7 L403.0,670.3 L404.0,668.9 L405.0,667.5 L406.0,666.1 L407.0,664.6 L408.0,663.2 L409.0,661.7 L410.0,660.3 L411.0,659.0 L412.0,657.6 L413.0,656.3 L414.0,654.9 L415.0,653.5 L416.0,652.3 L417.0,651.0 L418.0,649.8 L419.0,648.5 L420.0,647.3 L421.0,646.1 L422.0,644.9 L423.0,643.7 L424.0,642.7 L425.0,641.7 L426.0,640.6 L427.0,639.5 L428.0,638.5 L429.0,637.6 L430.0,636.8 L431.0,636.1 L432.0,635.5 L433.0,634.8 L434.0,634.3 L435.0,633.9 L436.0,633.3 L437.0,632.6 L438.0,632.1 L439.0,631.6 L440.0,631.1 L441.0,630.8 L442.0,630.6 L443.0,630.3 L444.0,630.4 L445.0,629.9 L446.0,629.4 L447.0,629.3 L448.0,629.2 L449.0,629.0 L450.0,628.7 L451.0,628.6 L452.0,628.9 L453.0,628.8 L454.0,628.2 L455.0,627.9 L456.0,628.1 L457.0,628.3 L458.0,628.1 L459.0,628.3 L460.0,628.5 L461.0,628.4 L462.0,628.1 L463.0,628.0 L464.0,628.2 L465.0,628.4 L466.0,628.4 L467.0,628.7 L468.0,628.9 L469.0,628.9 L470.0,629.0 L471.0,629.4 L472.0,629.4 L473.0,629.1 L474.0,629.4 L475.0,630.0 L476.0,630.0 L477.0,629.8 L478.0,630.3 L479.0,630.7 L480.0,630.5 L481.0,630.3 L482.0,630.8 L483.0,631.2 L484.0,631.1 L485.0,631.3 L486.0,631.7 L487.0,631.6 L488.0,631.5 L489.0,631.7 L490.0,631.9 L491.0,632.0 L492.0,632.1 L493.0,631.9 L494.0,631.8 L495.0,632.2 L496.0,632.1 L497.0,631.9 L498.0,632.3 L499.0,632.7 L500.0,632.4 L501.0,632.1 L502.0,632.3 L503.0,632.7 L504.0,632.7 L505.0,632.8 L506.0,633.4 L507.0,634.0 L508.0,634.2 L509.0,634.4 L510.0,634.9 L511.0,635.7 L512.0,636.2 L513.0,636.7 L514.0,637.5 L515.0,638.4 L516.0,639.1 L517.0,639.6 L518.0,640.0 L519.0,640.8 L520.0,641.7 L521.0,642.6 L522.0,643.1 L523.0,643.3 L524.0,643.8 L525.0,644.8 L526.0,645.7" stroke="#000" stroke-width="2.7"/>
<path d="M114.0,821.6 L115.0,821.6 L116.0,821.6 L117.0,821.4 L118.0,821.4 L119.0,821.3 L120.0,821.2 L121.0,821.1 L122.0,821.1 L123.0,821.0 L124.0,820.9 L125.0,820.9 L126.0,820.8 L127.0,820.8 L128.0,820.6 L129.0,820.6 L130.0,820.7 L131.0,820.6 L132.0,820.5 L133.0,820.4 L134.0,820.3 L135.0,820.2 L136.0,820.2 L137.0,820.2 L138.0,820.2 L139.0,820.1 L140.0,820.0 L141.0,819.9 L142.0,819.9 L143.0,819.8 L144.0,819.7 L145.0,819.6 L146.0,819.6 L147.0,819.5 L148.0,819.5 L149.0,819.4 L150.0,819.5 L151.0,819.5 L152.0,819.5 L153.0,819.5 L154.0,819.5 L155.0,819.5 L156.0,819.6 L157.0,819.6 L158.0,819.7 L159.0,819.8 L160.0,819.9 L161.0,820.0 L162.0,820.0 L163.0,820.1 L164.0,820.2 L165.0,820.3 L166.0,820.3 L167.0,820.3 L168.0,820.5 L169.0,820.6 L170.0,820.7 L171.0,820.8 L172.0,820.8 L173.0,820.8 L174.0,820.8 L175.0,820.9 L176.0,820.9 L177.0,821.0 L178.0,821.1 L179.0,821.2 L180.0,821.3 L181.0,821.2 L182.0,821.2 L183.0,821.3 L184.0,821.4 L185.0,821.6 L186.0,821.7 L187.0,821.6 L188.0,821.6 L189.0,821.6 L190.0,821.8 L191.0,821.8 L192.0,821.8 L193.0,821.9 L194.0,822.0 L195.0,822.0 L196.0,822.0 L197.0,822.0 L198.0,822.1 L199.0,822.1 L200.0,822.0 L201.0,822.0 L202.0,821.9 L203.0,822.0 L204.0,822.0 L205.0,822.0 L206.0,821.9 L207.0,821.9 L208.0,821.9 L209.0,821.9 L210.0,821.8 L211.0,821.8 L212.0,821.8 L213.0,821.8 L214.0,821.7 L215.0,821.6 L216.0,821.5 L217.0,821.5 L218.0,821.5 L219.0,821.5 L220.0,821.4 L221.0,821.4 L222.0,821.3 L223.0,821.2 L224.0,821.2 L225.0,821.1 L226.0,821.1 L227.0,820.9 L228.0,820.8 L229.0,820.8 L230.0,820.8 L231.0,820.8 L232.0,820.6 L233.0,820.6 L234.0,820.6 L235.0,820.4 L236.0,820.3 L237.0,820.1 L238.0,819.9 L239.0,819.9 L240.0,819.7 L241.0,819.5 L242.0,819.4 L243.0,819.4 L244.0,819.2 L245.0,819.1 L246.0,818.9 L247.0,818.8 L248.0,818.8 L249.0,818.7 L250.0,818.5 L251.0,818.3 L252.0,818.2 L253.0,818.1 L254.0,817.9 L255.0,817.7 L256.0,817.5 L257.0,817.2 L258.0,817.0 L259.0,816.8 L260.0,816.6 L261.0,816.3 L262.0,816.0 L263.0,815.8 L264.0,815.6 L265.0,815.2 L266.0,814.9 L267.0,814.6 L268.0,814.3 L269.0,814.0 L270.0,813.7 L271.0,813.3 L272.0,812.9 L273.0,812.7 L274.0,812.4 L275.0,812.1 L276.0,811.8 L277.0,811.5 L278.0,811.1 L279.0,810.8 L280.0,810.4 L281.0,810.0 L282.0,809.5 L283.0,809.0 L284.0,808.5 L285.0,808.0 L286.0,807.5 L287.0,806.9 L288.0,806.3 L289.0,805.7 L290.0,804.9 L291.0,804.3 L292.0,803.6 L293.0,802.9 L294.0,802.2 L295.0,801.4 L296.0,800.5 L297.0,799.7 L298.0,798.8 L299.0,797.9 L300.0,797.0 L301.0,796.0 L302.0,794.9 L303.0,793.8 L304.0,792.7 L305.0,791.6 L306.0,790.4 L307.0,789.1 L308.0,787.8 L309.0,786.6 L310.0,785.4 L311.0,784.2 L312.0,783.0 L313.0,781.8 L314.0,780.5 L315.0,779.2 L316.0,777.9 L317.0,776.6 L318.0,775.4 L319.0,774.3 L320.0,773.0 L321.0,771.8 L322.0,770.7 L323.0,769.6 L324.0,768.4 L325.0,767.2 L326.0,766.1 L327.0,764.9 L328.0,763.7 L329.0,762.3 L330.0,761.0 L331.0,759.6 L332.0,758.0 L333.0,756.3 L334.0,754.6 L335.0,752.9 L336.0,751.1 L337.0,749.3 L338.0,747.4 L339.0,745.4 L340.0,743.5 L341.0,741.4 L342.0,739.2 L343.0,737.0 L344.0,734.6 L345.0,732.4 L346.0,730.4 L347.0,728.5 L348.0,726.5 L349.0,724.5 L350.0,722.6 L351.0,720.7 L352.0,718.7 L353.0,716.7 L354.0,714.8 L355.0,712.8 L356.0,710.8 L357.0,708.8 L358.0,706.8 L359.0,704.8 L360.0,702.9 L361.0,701.1 L362.0,699.3 L363.0,697.6 L364.0,695.8 L365.0,694.1 L366.0,692.4 L367.0,690.7 L368.0,688.9 L369.0,687.0 L370.0,685.2 L371.0,683.3 L372.0,681.4 L373.0,679.6 L374.0,677.8 L375.0,675.9 L376.0,674.0 L377.0,672.1 L378.0,670.3 L379.0,668.4 L380.0,666.6 L381.0,664.7 L382.0,662.8 L383.0,660.9 L384.0,659.0 L385.0,657.0 L386.0,655.0 L387.0,653.1 L388.0,651.3 L389.0,649.3 L390.0,647.4 L391.0,645.5 L392.0,643.5 L393.0,641.5 L394.0,639.5 L395.0,637.4 L396.0,635.5 L397.0,633.6 L398.0,631.5 L399.0,629.6 L400.0,627.6 L401.0,625.5 L402.0,623.5 L403.0,621.6 L404.0,619.7 L405.0,617.7 L406.0,615.7 L407.0,613.8 L408.0,611.9 L409.0,610.0 L410.0,608.0 L411.0,606.0 L412.0,604.1 L413.0,602.1 L414.0,600.2 L415.0,598.3 L416.0,596.3 L417.0,594.3 L418.0,592.4 L419.0,590.5 L420.0,588.6 L421.0,586.6 L422.0,584.7 L423.0,582.9 L424.0,581.0 L425.0,578.9 L426.0,577.0 L427.0,575.2 L428.0,573.4 L429.0,571.9 L430.0,570.7 L431.0,569.2 L432.0,567.7 L433.0,566.6 L434.0,565.6 L435.0,564.5 L436.0,563.6 L437.0,562.3 L438.0,560.7 L439.0,560.3 L440.0,560.5 L441.0,559.6 L442.0,558.4 L443.0,557.7 L444.0,557.4 L445.0,556.5 L446.0,555.9 L447.0,555.6 L448.0,554.7 L449.0,554.0 L450.0,553.5 L451.0,552.8 L452.0,552.3 L453.0,552.3 L454.0,552.4 L455.0,552.0 L456.0,551.6 L457.0,551.4 L458.0,551.4 L459.0,551.2 L460.0,551.1 L461.0,551.5 L462.0,551.7 L463.0,551.5 L464.0,551.2 L465.0,551.7 L466.0,552.1 L467.0,551.4 L468.0,550.9 L469.0,551.1 L470.0,551.2 L471.0,551.2 L472.0,551.2 L473.0,551.5 L474.0,551.8 L475.0,551.9 L476.0,552.1 L477.0,552.7 L478.0,553.4 L479.0,554.0 L480.0,553.6 L481.0,553.1 L482.0,553.4 L483.0,553.7 L484.0,553.5 L485.0,553.8 L486.0,554.3 L487.0,554.4 L488.0,554.7 L489.0,554.6 L490.0,554.5 L491.0,555.1 L492.0,554.9 L493.0,554.6 L494.0,555.3 L495.0,556.0 L496.0,556.2 L497.0,556.6 L498.0,557.0 L499.0,556.9 L500.0,556.9 L501.0,556.8 L502.0,556.8 L503.0,557.8 L504.0,558.4 L505.0,558.5 L506.0,559.3 L507.0,559.7 L508.0,559.8 L509.0,560.9 L510.0,561.8 L511.0,562.2 L512.0,562.9 L513.0,563.5 L514.0,563.8 L515.0,564.5 L516.0,565.2 L517.0,565.6 L518.0,566.2 L519.0,566.6 L520.0,567.0 L521.0,567.8 L522.0,569.1 L523.0,570.3 L524.0,571.3 L525.0,572.5 L526.0,574.1" stroke="#a35e3d" stroke-width="2.7"/>
<path d="M114.0,821.0 L115.0,821.0 L116.0,820.9 L117.0,820.8 L118.0,820.7 L119.0,820.8 L120.0,820.7 L121.0,820.6 L122.0,820.6 L123.0,820.6 L124.0,820.6 L125.0,820.5 L126.0,820.4 L127.0,820.3 L128.0,820.2 L129.0,820.1 L130.0,820.0 L131.0,819.9 L132.0,819.9 L133.0,819.8 L134.0,819.7 L135.0,819.6 L136.0,819.5 L137.0,819.4 L138.0,819.3 L139.0,819.3 L140.0,819.3 L141.0,819.2 L142.0,819.1 L143.0,819.0 L144.0,818.9 L145.0,818.8 L146.0,818.8 L147.0,818.8 L148.0,818.7 L149.0,818.6 L150.0,818.5 L151.0,818.5 L152.0,818.6 L153.0,818.7 L154.0,818.7 L155.0,818.7 L156.0,818.7 L157.0,818.8 L158.0,818.9 L159.0,818.9 L160.0,819.0 L161.0,819.1 L162.0,819.1 L163.0,819.2 L164.0,819.3 L165.0,819.4 L166.0,819.5 L167.0,819.5 L168.0,819.7 L169.0,819.8 L170.0,819.9 L171.0,819.9 L172.0,820.0 L173.0,820.2 L174.0,820.2 L175.0,820.3 L176.0,820.4 L177.0,820.5 L178.0,820.6 L179.0,820.7 L180.0,820.8 L181.0,820.8 L182.0,820.9 L183.0,821.0 L184.0,821.2 L185.0,821.3 L186.0,821.4 L187.0,821.5 L188.0,821.4 L189.0,821.5 L190.0,821.5 L191.0,821.6 L192.0,821.7 L193.0,821.8 L194.0,821.8 L195.0,821.9 L196.0,821.9 L197.0,821.9 L198.0,822.0 L199.0,822.0 L200.0,822.0 L201.0,822.0 L202.0,822.0 L203.0,822.0 L204.0,822.0 L205.0,821.9 L206.0,821.9 L207.0,822.0 L208.0,822.0 L209.0,822.0 L210.0,821.9 L211.0,821.9 L212.0,821.9 L213.0,821.8 L214.0,821.7 L215.0,821.8 L216.0,821.7 L217.0,821.6 L218.0,821.6 L219.0,821.6 L220.0,821.6 L221.0,821.5 L222.0,821.5 L223.0,821.4 L224.0,821.4 L225.0,821.5 L226.0,821.4 L227.0,821.3 L228.0,821.3 L229.0,821.3 L230.0,821.3 L231.0,821.2 L232.0,821.1 L233.0,821.0 L234.0,821.0 L235.0,820.9 L236.0,820.8 L237.0,820.7 L238.0,820.6 L239.0,820.5 L240.0,820.3 L241.0,820.2 L242.0,820.1 L243.0,820.0 L244.0,819.9 L245.0,819.8 L246.0,819.7 L247.0,819.6 L248.0,819.5 L249.0,819.3 L250.0,819.2 L251.0,819.1 L252.0,818.9 L253.0,818.7 L254.0,818.6 L255.0,818.4 L256.0,818.2 L257.0,818.1 L258.0,818.0 L259.0,817.8 L260.0,817.6 L261.0,817.4 L262.0,817.2 L263.0,816.9 L264.0,816.6 L265.0,816.4 L266.0,816.2 L267.0,815.9 L268.0,815.6 L269.0,815.3 L270.0,815.1 L271.0,814.8 L272.0,814.6 L273.0,814.3 L274.0,814.1 L275.0,813.9 L276.0,813.6 L277.0,813.4 L278.0,813.2 L279.0,812.9 L280.0,812.6 L281.0,812.2 L282.0,811.8 L283.0,811.4 L284.0,811.0 L285.0,810.5 L286.0,810.0 L287.0,809.4 L288.0,808.8 L289.0,808.2 L290.0,807.5 L291.0,806.9 L292.0,806.3 L293.0,805.6 L294.0,804.9 L295.0,804.2 L296.0,803.3 L297.0,802.4 L298.0,801.5 L299.0,800.7 L300.0,799.8 L301.0,798.8 L302.0,797.8 L303.0,796.8 L304.0,795.7 L305.0,794.6 L306.0,793.4 L307.0,792.1 L308.0,790.9 L309.0,789.6 L310.0,788.3 L311.0,787.0 L312.0,785.9 L313.0,784.6 L314.0,783.2 L315.0,781.8 L316.0,780.4 L317.0,779.1 L318.0,777.8 L319.0,776.4 L320.0,775.0 L321.0,773.7 L322.0,772.5 L323.0,771.2 L324.0,769.9 L325.0,768.7 L326.0,767.5 L327.0,766.1 L328.0,764.7 L329.0,763.4 L330.0,762.0 L331.0,760.6 L332.0,759.3 L333.0,757.9 L334.0,756.2 L335.0,754.3 L336.0,752.2 L337.0,749.2 L338.0,745.0 L339.0,740.7 L340.0,737.8 L341.0,735.6 L342.0,733.7 L343.0,732.0 L344.0,730.0 L345.0,727.9 L346.0,725.9 L347.0,724.0 L348.0,722.1 L349.0,720.0 L350.0,718.0 L351.0,716.0 L352.0,713.8 L353.0,711.7 L354.0,709.5 L355.0,707.4 L356.0,705.2 L357.0,703.1 L358.0,701.0 L359.0,698.9 L360.0,696.8 L361.0,694.8 L362.0,692.9 L363.0,690.9 L364.0,688.8 L365.0,686.7 L366.0,684.5 L367.0,682.2 L368.0,679.8 L369.0,677.5 L370.0,675.3 L371.0,673.0 L372.0,670.6 L373.0,668.2 L374.0,665.7 L375.0,663.2 L376.0,660.7 L377.0,658.3 L378.0,655.9 L379.0,653.5 L380.0,651.1 L381.0,648.6 L382.0,646.2 L383.0,643.8 L384.0,641.4 L385.0,639.1 L386.0,636.8 L387.0,634.5 L388.0,632.2 L389.0,629.8 L390.0,627.4 L391.0,625.1 L392.0,622.6 L393.0,620.1 L394.0,617.6 L395.0,615.2 L396.0,612.6 L397.0,610.2 L398.0,607.7 L399.0,605.1 L400.0,602.6 L401.0,600.2 L402.0,597.9 L403.0,595.5 L404.0,593.1 L405.0,590.7 L406.0,588.3 L407.0,585.9 L408.0,583.5 L409.0,581.2 L410.0,578.8 L411.0,576.4 L412.0,574.1 L413.0,571.7 L414.0,569.3 L415.0,567.0 L416.0,564.6 L417.0,562.2 L418.0,559.7 L419.0,557.3 L420.0,554.9 L421.0,552.5 L422.0,550.2 L423.0,547.9 L424.0,545.5 L425.0,543.2 L426.0,541.0 L427.0,538.7 L428.0,536.7 L429.0,534.9 L430.0,533.2 L431.0,531.6 L432.0,530.0 L433.0,528.4 L434.0,527.0 L435.0,526.0 L436.0,524.7 L437.0,523.3 L438.0,521.6 L439.0,520.0 L440.0,519.0 L441.0,518.2 L442.0,517.5 L443.0,517.0 L444.0,516.1 L445.0,515.6 L446.0,515.3 L447.0,514.3 L448.0,513.9 L449.0,514.1 L450.0,513.3 L451.0,512.4 L452.0,512.2 L453.0,512.5 L454.0,512.0 L455.0,510.9 L456.0,510.8 L457.0,510.9 L458.0,510.3 L459.0,509.7 L460.0,510.5 L461.0,512.3 L462.0,512.2 L463.0,511.3 L464.0,510.9 L465.0,510.7 L466.0,510.2 L467.0,509.7 L468.0,510.4 L469.0,511.2 L470.0,511.3 L471.0,511.1 L472.0,511.3 L473.0,511.8 L474.0,512.5 L475.0,513.2 L476.0,513.8 L477.0,513.4 L478.0,512.7 L479.0,513.3 L480.0,514.0 L481.0,514.4 L482.0,514.4 L483.0,514.1 L484.0,514.4 L485.0,514.9 L486.0,514.9 L487.0,514.9 L488.0,515.4 L489.0,516.3 L490.0,516.8 L491.0,516.6 L492.0,516.5 L493.0,516.9 L494.0,517.5 L495.0,517.9 L496.0,518.1 L497.0,518.0 L498.0,518.2 L499.0,519.1 L500.0,519.9 L501.0,520.2 L502.0,521.0 L503.0,521.7 L504.0,521.6 L505.0,521.8 L506.0,522.9 L507.0,524.7 L508.0,525.9 L509.0,526.5 L510.0,527.3 L511.0,528.3 L512.0,529.2 L513.0,530.5 L514.0,531.7 L515.0,532.8 L516.0,533.9 L517.0,534.2 L518.0,535.2 L519.0,537.0 L520.0,538.4 L521.0,539.1 L522.0,540.2 L523.0,542.1 L524.0,543.8 L525.0,545.3 L526.0,547.2" stroke="#1a0fe0" stroke-width="2.7"/>
</g>
<g class="dot">
<line x1="290" y1="823.4" x2="438" y2="623.4" stroke="#000"/>
<line x1="298" y1="823.4" x2="441.5" y2="547.8" stroke="#7a4a22"/>
<line x1="307.2" y1="823.4" x2="440.2" y2="508.3" stroke="#1a0fe0"/>
</g>

<g class="ax">
<rect x="82" y="465.7" width="444.6" height="357.95"/>
<line x1="82" y1="823.65" x2="82" y2="830.3"/>
<line x1="170.9" y1="823.65" x2="170.9" y2="830.3"/>
<line x1="259.8" y1="823.65" x2="259.8" y2="830.3"/>
<line x1="348.8" y1="823.65" x2="348.8" y2="830.3"/>
<line x1="437.7" y1="823.65" x2="437.7" y2="830.3"/>
<line x1="526.6" y1="823.65" x2="526.6" y2="830.3"/>
<line x1="75" y1="823.65" x2="82" y2="823.65"/>
<line x1="75" y1="734.16" x2="82" y2="734.16"/>
<line x1="75" y1="644.67" x2="82" y2="644.67"/>
<line x1="75" y1="555.18" x2="82" y2="555.18"/>
<line x1="75" y1="465.69" x2="82" y2="465.69"/>
</g>
<g class="sans tick">
<text x="82" y="847.0" text-anchor="middle">1</text>
<text x="170.9" y="847.0" text-anchor="middle">2</text>
<text x="259.8" y="847.0" text-anchor="middle">3</text>
<text x="348.8" y="847.0" text-anchor="middle">4</text>
<text x="437.7" y="847.0" text-anchor="middle">5</text>
<text x="526.6" y="847.0" text-anchor="middle">6</text>
<text x="70.3" y="827.65" text-anchor="end">0</text>
<text x="70.3" y="738.16" text-anchor="end">10</text>
<text x="70.3" y="648.67" text-anchor="end">20</text>
<text x="70.3" y="559.18" text-anchor="end">30</text>
<text x="70.3" y="469.69" text-anchor="end">40</text>
</g>
<text class="sans" font-size="16.6px" transform="translate(304.2,873.4) scale(1.115,1)" text-anchor="middle">Energy (eV)</text>

<g class="cv">
<path d="M102,495 H138" stroke="#000" stroke-width="2.9" stroke-linecap="butt"/>
<path d="M102,515.8 H138" stroke="#a35e3d" stroke-width="2.9" stroke-linecap="butt"/>
<path d="M102,538.3 H138" stroke="#1a0fe0" stroke-width="2.9" stroke-linecap="butt"/>
</g>
<g class="sans leg" style="font-size:12.2px">
<text x="142" y="499.8">005Fe005Cu Al<tspan font-size="9px" dy="3.7">2</tspan><tspan dy="-3.7">O</tspan><tspan font-size="9px" dy="3.7">3</tspan></text>
<text x="142" y="520.6">005Fe01Cu Al<tspan font-size="9px" dy="3.7">2</tspan><tspan dy="-3.7">O</tspan><tspan font-size="9px" dy="3.7">3</tspan></text>
<text x="142" y="543.1">005Fe02Cu Al<tspan font-size="9px" dy="3.7">2</tspan><tspan dy="-3.7">O</tspan><tspan font-size="9px" dy="3.7">3</tspan></text>
</g>

<g transform="translate(45.9,681.7) rotate(-90)"><text class="serif" transform="translate(3.18,-3) scale(1.404,1)" font-size="16.5px" stroke="#000" stroke-width="0.3" stroke-linejoin="round">(</text><text class="serif" transform="translate(8.01,0) scale(0.853,1)" font-size="32px" font-weight="bold" stroke="#000" stroke-width="0.6" stroke-linejoin="round">α</text><text class="serif" transform="translate(23.71,0) scale(0.676,1)" font-size="32px" font-weight="bold" stroke="#000" stroke-width="0.9" stroke-linejoin="round">h</text><text class="serif" transform="translate(36.30,0) scale(1.144,1)" font-size="31px" font-weight="bold">ν</text><text class="serif" transform="translate(53.35,-3) scale(1.508,1)" font-size="16.5px" stroke="#000" stroke-width="0.3" stroke-linejoin="round">)</text><text class="serif" transform="translate(62.09,-10) scale(1.113,1)" font-size="18.4px" stroke="#000" stroke-width="0.45" stroke-linejoin="round">2</text></g>
</svg>
</body>
</html>
